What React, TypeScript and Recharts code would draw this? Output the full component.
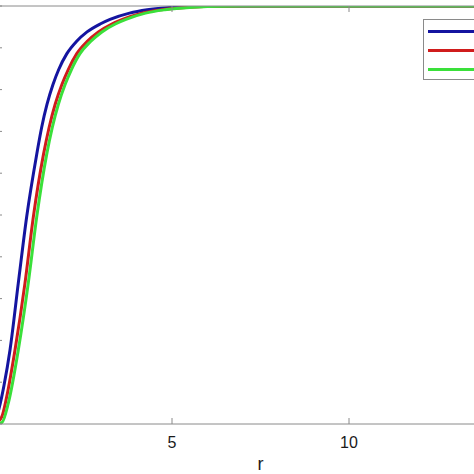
import React from 'react';
import { LineChart, Line, XAxis, YAxis } from 'recharts';

const rBlue = [0, 0.19, 0.254, 0.424, 0.658, 0.895, 1.178, 1.319, 1.47, 1.638, 1.8, 2.03, 2.3, 2.6, 2.97, 3.25, 3.8, 4.3, 4.86, 5.5, 6.5, 8, 10, 12, 15];
const vBlue = [0, 0.065, 0.092, 0.177, 0.337, 0.496, 0.645, 0.71, 0.765, 0.812, 0.848, 0.886, 0.915, 0.938, 0.957, 0.968, 0.983, 0.991, 0.996, 0.999, 1, 1, 1, 1, 1];

const rRed = [0, 0.19, 0.33, 0.565, 0.847, 1.082, 1.37, 1.53, 1.7, 1.89, 2.07, 2.31, 2.6, 2.92, 3.3, 3.6, 4.15, 4.7, 5.3, 5.9, 7, 8, 10, 12, 15];
const vRed = [0, 0.017, 0.065, 0.177, 0.337, 0.495, 0.645, 0.71, 0.765, 0.812, 0.848, 0.886, 0.915, 0.938, 0.957, 0.968, 0.983, 0.991, 0.996, 0.999, 1, 1, 1, 1, 1];

const rGreen = [0, 0.19, 0.376, 0.658, 0.94, 1.178, 1.46, 1.62, 1.79, 1.98, 2.16, 2.4, 2.7, 3.02, 3.4, 3.7, 4.25, 4.8, 5.4, 6.0, 7, 8, 10, 12, 15];
const vGreen = [0, 0.003, 0.05, 0.177, 0.337, 0.495, 0.645, 0.71, 0.765, 0.812, 0.848, 0.886, 0.915, 0.938, 0.957, 0.968, 0.983, 0.991, 0.996, 0.999, 1, 1, 1, 1, 1];

const xTicks = [5, 10];
const yTicks = [0, 0.1, 0.2, 0.3, 0.4, 0.5, 0.6, 0.7, 0.8, 0.9, 1];
const seriesNames = ['series 1', 'series 2', 'series 3'];
const seriesColors = ['#1414a0', '#d01c1c', '#3ae03a'];
const xLabel = 'r';

const toData = (rs: number[], vs: number[]) => rs.map((r, i) => ({ r, v: vs[i] }));

const axisGray = '#8a8a8a';
const font = 'Liberation Sans, Arial, sans-serif';

const NoLabel = () => <g />;

export default function App() {
  const series = [
    { name: seriesNames[0], color: seriesColors[0], data: toData(rBlue, vBlue) },
    { name: seriesNames[1], color: seriesColors[1], data: toData(rRed, vRed) },
    { name: seriesNames[2], color: seriesColors[2], data: toData(rGreen, vGreen) },
  ];
  return (
    <div style={{ position: 'absolute', left: 0, top: 0, width: 474, height: 474, overflow: 'hidden', background: '#fff' }}>
      <div style={{ position: 'absolute', left: -45, top: 0 }}>
        <LineChart width={585} height={474} margin={{ top: 0, right: 14, bottom: 0, left: 0 }}>
          <XAxis
            xAxisId="b"
            dataKey="r"
            type="number"
            domain={[0, 15]}
            allowDataOverflow
            ticks={xTicks}
            orientation="bottom"
            height={50}
            tickSize={-6}
            tickMargin={19}
            axisLine={{ stroke: axisGray }}
            tickLine={{ stroke: axisGray }}
            tick={{ fontSize: 16, fill: '#1a1a1a', fontFamily: font }}
            label={{ value: xLabel, position: 'insideBottom', offset: 4, fontSize: 18, fill: '#1a1a1a', fontFamily: font }}
          />
          <XAxis
            xAxisId="t"
            dataKey="r"
            type="number"
            domain={[0, 15]}
            allowDataOverflow
            ticks={xTicks}
            orientation="top"
            height={6}
            tickSize={-6}
            tick={NoLabel}
            axisLine={{ stroke: axisGray }}
            tickLine={{ stroke: axisGray }}
          />
          <YAxis
            type="number"
            domain={[0, 1]}
            allowDataOverflow
            ticks={yTicks}
            width={40}
            tickSize={-7}
            tick={NoLabel}
            axisLine={{ stroke: axisGray }}
            tickLine={{ stroke: axisGray }}
          />
          {series.map((s) => (
            <Line
              key={s.name}
              xAxisId="b"
              data={s.data}
              dataKey="v"
              name={s.name}
              type="monotone"
              stroke={s.color}
              strokeWidth={3}
              dot={false}
              activeDot={false}
              isAnimationActive={false}
            />
          ))}
        </LineChart>
      </div>
      <div
        style={{
          position: 'absolute',
          left: 423,
          top: 19,
          width: 110,
          height: 59,
          border: `1px solid ${axisGray}`,
          background: '#fff',
        }}
      >
        {series.map((s, i) => (
          <div
            key={s.name}
            title={s.name}
            style={{ position: 'absolute', left: 4, top: 10 + i * 19, width: 56, height: 3, background: s.color }}
          />
        ))}
      </div>
    </div>
  );
}
